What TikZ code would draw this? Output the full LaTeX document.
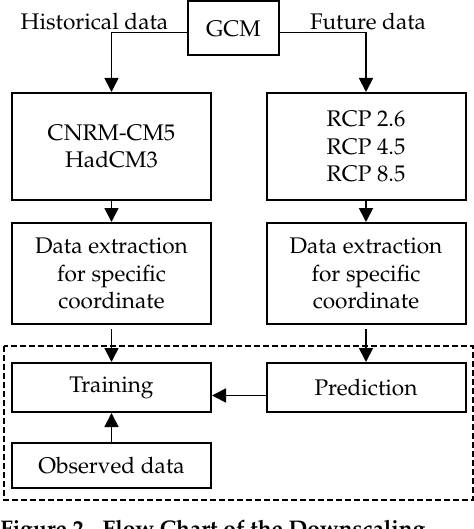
\documentclass[tikz,border=0pt]{standalone}
\usepackage[T1]{fontenc}
\usepackage{mathpazo}
\usepackage{tikz}
\usetikzlibrary{arrows.meta}

\begin{document}
\begin{tikzpicture}[x=0.5pt, y=-0.5pt]
        % Define the styles for boxes and arrows
        \tikzstyle{stepbox}=[rectangle, draw, line width=1pt, align=center, inner sep=0pt, minimum width=99.5pt, font=\fontsize{11.3}{13.8}\selectfont]
        \tikzstyle{label}=[inner sep=0pt, font=\fontsize{11.3}{13.8}\selectfont]
        \tikzstyle{arr}=[line width=0.9pt, -{Triangle[length=7pt, width=7pt]}]
        \useasboundingbox (0,0) rectangle (474,529);

        % Define the nodes
        \node[stepbox, minimum width=45.5pt, minimum height=27pt] (gcm) at (233.5,28.5) {GCM};
        \node[label] (hist) at (94.5,22) {Historical data};
        \node[label] (fut) at (368,22) {Future data};
        \node[stepbox, minimum height=53.5pt] (cnrm) at (111.5,146.5) {CNRM-CM5\\HadCM3};
        \node[stepbox, minimum height=53.5pt] (rcp) at (366,146.5) {RCP 2.6\\RCP 4.5\\RCP 8.5};
        \node[stepbox, minimum height=50.5pt] (ext1) at (111.5,273.5) {Data extraction\\for specific\\coordinate};
        \node[stepbox, minimum height=50.5pt] (ext2) at (366,273.5) {Data extraction\\for specific\\coordinate};
        \node[stepbox, minimum height=24.5pt] (train) at (111.5,387.5) {Training};
        \node[stepbox, minimum height=24.5pt] (pred) at (366,387.5) {Prediction};
        \node[stepbox, minimum height=22.5pt] (obs) at (111.5,465.5) {Observed data};

        % Define the dashed frame for downscaling
        \draw[line width=1pt, dash pattern=on 3pt off 1.5pt] (4,346) rectangle (473,500);

        % Define the arrows
        \draw[arr] ([yshift=-2pt]gcm.west) -| (cnrm.north);
        \draw[arr] ([yshift=-2pt]gcm.east) -| (rcp.north);
        \draw[arr] (cnrm) -- (ext1);
        \draw[arr] (rcp) -- (ext2);
        \draw[arr] ([yshift=-2pt]ext1.south) -- (train);
        \draw[arr] ([yshift=-2pt]ext2.south) -- (pred);
        \draw[arr] ([yshift=-4pt]pred.west) -- ([yshift=-4pt]train.east);
        \draw[arr] (obs) -- (train);

        % Define the caption
        \node[anchor=base west, inner sep=0pt, font=\fontsize{11.3}{13.8}\selectfont\bfseries] (cap) at (0,536) {Figure 2 - Flow Chart of the Downscaling};
    \end{tikzpicture}
\end{document}
